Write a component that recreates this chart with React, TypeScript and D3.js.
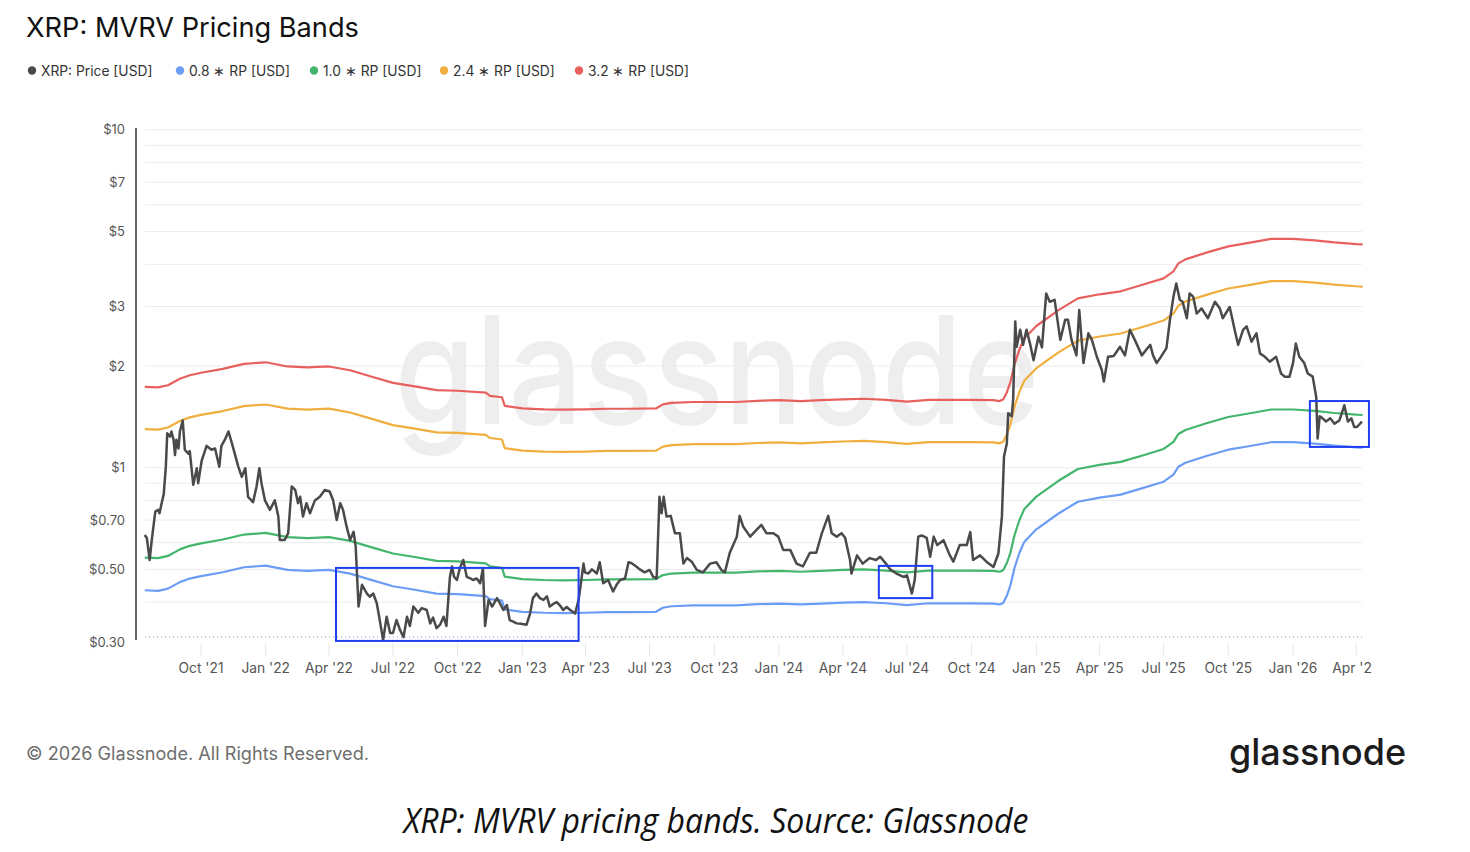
import React from "react";
import * as d3 from "d3";

const W = 1470;
const H = 852;

// XRP price (date, USD)
const priceData: [string, number][] = [
["2021-07-13",0.632],["2021-07-16",0.619],["2021-07-20",0.533],["2021-07-23",0.611],["2021-07-28",0.741],["2021-08-01",0.75],["2021-08-03",0.733],["2021-08-06",0.785],["2021-08-09",0.835],["2021-08-12",1.007],["2021-08-14",1.265],["2021-08-18",1.236],["2021-08-20",1.28],["2021-08-23",1.21],["2021-08-25",1.09],["2021-08-27",1.21],["2021-08-30",1.14],["2021-09-01",1.28],["2021-09-05",1.38],["2021-09-08",1.13],["2021-09-13",1.10],["2021-09-15",1.12],["2021-09-20",0.89],["2021-09-25",0.996],["2021-09-27",0.90],["2021-10-02",1.05],["2021-10-09",1.16],["2021-10-16",1.13],["2021-10-21",1.14],["2021-10-27",1.007],["2021-10-30",1.16],["2021-11-04",1.21],["2021-11-09",1.28],["2021-11-14",1.18],["2021-11-18",1.10],["2021-11-23",1.007],["2021-11-28",0.94],["2021-12-03",0.996],["2021-12-07",0.82],["2021-12-14",0.79],["2021-12-19",0.88],["2021-12-23",0.996],["2021-12-26",0.90],["2021-12-31",0.80],["2022-01-07",0.75],["2022-01-14",0.80],["2022-01-19",0.717],["2022-01-21",0.611],["2022-01-28",0.611],["2022-02-02",0.64],["2022-02-07",0.88],["2022-02-12",0.859],["2022-02-16",0.785],["2022-02-19",0.82],["2022-02-23",0.717],["2022-02-28",0.785],["2022-03-05",0.733],["2022-03-12",0.80],["2022-03-19",0.82],["2022-03-26",0.859],["2022-04-02",0.85],["2022-04-07",0.80],["2022-04-12",0.70],["2022-04-17",0.785],["2022-04-21",0.75],["2022-04-26",0.67],["2022-05-01",0.611],["2022-05-06",0.646],["2022-05-09",0.584],["2022-05-13",0.388],["2022-05-18",0.45],["2022-05-25",0.424],["2022-05-29",0.415],["2022-06-03",0.424],["2022-06-08",0.397],["2022-06-13",0.346],["2022-06-17",0.309],["2022-06-22",0.362],["2022-06-27",0.324],["2022-07-01",0.324],["2022-07-06",0.354],["2022-07-11",0.331],["2022-07-16",0.315],["2022-07-21",0.362],["2022-07-25",0.34],["2022-07-30",0.388],["2022-08-06",0.372],["2022-08-11",0.384],["2022-08-18",0.379],["2022-08-23",0.346],["2022-08-27",0.36],["2022-09-01",0.335],["2022-09-06",0.343],["2022-09-11",0.362],["2022-09-15",0.34],["2022-09-20",0.475],["2022-09-23",0.51],["2022-09-26",0.475],["2022-09-30",0.465],["2022-10-04",0.504],["2022-10-09",0.533],["2022-10-14",0.475],["2022-10-19",0.47],["2022-10-23",0.465],["2022-10-28",0.47],["2022-11-02",0.455],["2022-11-06",0.504],["2022-11-09",0.34],["2022-11-14",0.406],["2022-11-19",0.388],["2022-11-26",0.411],["2022-11-30",0.397],["2022-12-05",0.379],["2022-12-10",0.392],["2022-12-14",0.354],["2022-12-19",0.35],["2022-12-24",0.346],["2022-12-30",0.345],["2023-01-07",0.343],["2023-01-12",0.37],["2023-01-16",0.411],["2023-01-21",0.424],["2023-01-26",0.411],["2023-01-31",0.406],["2023-02-05",0.416],["2023-02-09",0.388],["2023-02-14",0.395],["2023-02-19",0.40],["2023-02-24",0.39],["2023-02-28",0.379],["2023-03-05",0.387],["2023-03-10",0.379],["2023-03-17",0.37],["2023-03-22",0.406],["2023-03-25",0.45],["2023-03-29",0.52],["2023-03-31",0.49],["2023-04-05",0.486],["2023-04-10",0.50],["2023-04-17",0.486],["2023-04-21",0.525],["2023-04-26",0.455],["2023-05-03",0.465],["2023-05-10",0.43],["2023-05-15",0.45],["2023-05-20",0.465],["2023-05-27",0.47],["2023-06-01",0.525],["2023-06-05",0.522],["2023-06-12",0.51],["2023-06-17",0.50],["2023-06-24",0.49],["2023-07-01",0.498],["2023-07-06",0.475],["2023-07-11",0.47],["2023-07-15",0.82],["2023-07-18",0.733],["2023-07-21",0.82],["2023-07-25",0.717],["2023-07-31",0.72],["2023-08-06",0.64],["2023-08-13",0.64],["2023-08-18",0.52],["2023-08-23",0.54],["2023-08-30",0.527],["2023-09-06",0.498],["2023-09-15",0.49],["2023-09-25",0.52],["2023-10-04",0.525],["2023-10-11",0.498],["2023-10-16",0.49],["2023-10-23",0.56],["2023-11-02",0.625],["2023-11-06",0.72],["2023-11-11",0.67],["2023-11-21",0.625],["2023-11-30",0.654],["2023-12-07",0.677],["2023-12-14",0.64],["2023-12-24",0.64],["2023-12-31",0.625],["2024-01-07",0.571],["2024-01-17",0.571],["2024-01-26",0.52],["2024-02-04",0.51],["2024-02-14",0.56],["2024-02-23",0.56],["2024-03-02",0.64],["2024-03-11",0.72],["2024-03-16",0.64],["2024-03-23",0.625],["2024-03-30",0.64],["2024-04-04",0.62],["2024-04-11",0.533],["2024-04-13",0.486],["2024-04-21",0.55],["2024-04-29",0.52],["2024-05-09",0.54],["2024-05-18",0.533],["2024-05-24",0.545],["2024-06-01",0.52],["2024-06-07",0.50],["2024-06-16",0.486],["2024-06-26",0.475],["2024-07-01",0.48],["2024-07-08",0.424],["2024-07-12",0.465],["2024-07-17",0.625],["2024-07-22",0.63],["2024-07-29",0.62],["2024-08-03",0.545],["2024-08-08",0.625],["2024-08-13",0.59],["2024-08-22",0.61],["2024-08-31",0.55],["2024-09-05",0.527],["2024-09-14",0.59],["2024-09-24",0.59],["2024-09-29",0.645],["2024-10-03",0.533],["2024-10-13",0.55],["2024-10-22",0.527],["2024-11-01",0.508],["2024-11-08",0.557],["2024-11-13",0.715],["2024-11-16",1.08],["2024-11-20",1.18],["2024-11-22",1.45],["2024-11-27",1.42],["2024-11-29",1.59],["2024-12-02",2.71],["2024-12-04",2.28],["2024-12-09",2.56],["2024-12-13",2.31],["2024-12-18",2.56],["2024-12-23",2.33],["2024-12-28",2.08],["2025-01-04",2.44],["2025-01-09",2.27],["2025-01-15",3.28],["2025-01-20",3.10],["2025-01-27",3.14],["2025-02-04",2.39],["2025-02-11",2.74],["2025-02-15",2.74],["2025-02-20",2.39],["2025-02-27",2.15],["2025-03-03",2.93],["2025-03-09",2.04],["2025-03-16",2.50],["2025-03-21",2.39],["2025-03-28",2.13],["2025-04-04",1.95],["2025-04-07",1.80],["2025-04-13",2.13],["2025-04-21",2.14],["2025-04-30",2.28],["2025-05-07",2.15],["2025-05-14",2.56],["2025-05-21",2.39],["2025-05-31",2.15],["2025-06-06",2.23],["2025-06-12",2.31],["2025-06-16",2.15],["2025-06-21",2.04],["2025-06-26",2.11],["2025-07-05",2.26],["2025-07-10",2.74],["2025-07-15",3.21],["2025-07-19",3.51],["2025-07-24",3.14],["2025-07-28",3.10],["2025-08-03",2.77],["2025-08-07",3.28],["2025-08-12",3.21],["2025-08-17",2.86],["2025-08-24",2.96],["2025-09-02",2.77],["2025-09-12",3.10],["2025-09-19",2.96],["2025-09-23",2.77],["2025-10-03",2.99],["2025-10-10",2.56],["2025-10-15",2.31],["2025-10-22",2.56],["2025-10-27",2.62],["2025-11-03",2.36],["2025-11-10",2.50],["2025-11-15",2.18],["2025-11-22",2.13],["2025-11-29",2.06],["2025-12-08",2.13],["2025-12-15",1.90],["2025-12-20",1.86],["2025-12-27",1.86],["2026-01-01",2.04],["2026-01-05",2.33],["2026-01-10",2.13],["2026-01-17",2.04],["2026-01-22",1.90],["2026-01-29",1.86],["2026-02-03",1.62],["2026-02-05",1.22],["2026-02-08",1.42],["2026-02-12",1.40],["2026-02-17",1.37],["2026-02-23",1.40],["2026-03-01",1.35],["2026-03-08",1.38],["2026-03-15",1.53],["2026-03-20",1.37],["2026-03-25",1.40],["2026-03-29",1.32],["2026-04-02",1.32],["2026-04-05",1.34],["2026-04-09",1.37]
];

// Realized price (1.0 * RP), USD
const realizedPrice: [string, number][] = [
["2021-07-13",0.542],["2021-08-01",0.540],["2021-08-15",0.548],["2021-09-01",0.573],["2021-09-15",0.587],["2021-10-01",0.597],["2021-11-01",0.613],["2021-12-01",0.634],["2022-01-01",0.641],["2022-02-01",0.623],["2022-03-01",0.619],["2022-04-01",0.623],["2022-05-01",0.607],["2022-06-01",0.581],["2022-07-01",0.557],["2022-08-01",0.544],["2022-09-01",0.530],["2022-10-01",0.528],["2022-11-10",0.521],["2022-11-16",0.510],["2022-12-03",0.505],["2022-12-07",0.476],["2023-01-01",0.468],["2023-02-01",0.465],["2023-03-01",0.464],["2023-04-01",0.465],["2023-05-01",0.467],["2023-06-01",0.467],["2023-07-10",0.468],["2023-07-20",0.481],["2023-08-01",0.486],["2023-09-01",0.489],["2023-10-01",0.489],["2023-11-01",0.489],["2023-12-01",0.493],["2024-01-01",0.495],["2024-02-01",0.492],["2024-03-01",0.495],["2024-04-01",0.498],["2024-05-01",0.500],["2024-06-01",0.496],["2024-07-01",0.490],["2024-08-01",0.496],["2024-09-01",0.496],["2024-10-01",0.496],["2024-11-01",0.495],["2024-11-10",0.492],["2024-11-15",0.498],["2024-11-20",0.522],["2024-11-25",0.559],["2024-12-01",0.632],["2024-12-08",0.700],["2024-12-15",0.755],["2025-01-01",0.821],["2025-02-01",0.913],["2025-03-01",0.991],["2025-04-01",1.019],["2025-05-01",1.040],["2025-06-01",1.087],["2025-07-01",1.136],["2025-07-15",1.192],["2025-07-22",1.258],["2025-08-01",1.293],["2025-09-01",1.356],["2025-10-01",1.413],["2025-11-01",1.449],["2025-12-01",1.487],["2026-01-01",1.487],["2026-02-01",1.472],["2026-03-01",1.452],["2026-04-01",1.435],["2026-04-10",1.432]
];

const bandMultipliers = [0.8, 1.0, 2.4, 3.2];
const legendLabels = ["XRP: Price [USD]", "0.8 \u2217 RP [USD]", "1.0 \u2217 RP [USD]", "2.4 \u2217 RP [USD]", "3.2 \u2217 RP [USD]"];

const yTickValues = [10, 7, 5, 3, 2, 1, 0.7, 0.5, 0.3];
const yTickLabels = ["$10", "$7", "$5", "$3", "$2", "$1", "$0.70", "$0.50", "$0.30"];
const gridValues = [10, 9, 8, 7, 6, 5, 4, 3, 2, 1, 0.9, 0.8, 0.7, 0.6, 0.5, 0.4];

const xTickDates = ["2021-10-01","2022-01-01","2022-04-01","2022-07-01","2022-10-01","2023-01-01","2023-04-01","2023-07-01","2023-10-01","2024-01-01","2024-04-01","2024-07-01","2024-10-01","2025-01-01","2025-04-01","2025-07-01","2025-10-01","2026-01-01","2026-04-01"];
const xTickLabels = ["Oct '21","Jan '22","Apr '22","Jul '22","Oct '22","Jan '23","Apr '23","Jul '23","Oct '23","Jan '24","Apr '24","Jul '24","Oct '24","Jan '25","Apr '25","Jul '25","Oct '25","Jan '26","Apr '26"];

// highlighted regions: [start, end, low, high]
const highlightBoxes: [string, string, number, number][] = [
  ["2022-04-11", "2023-03-22", 0.307, 0.505],
  ["2024-05-22", "2024-08-06", 0.411, 0.512],
  ["2026-01-25", "2026-04-19", 1.152, 1.575],
];

const seriesColors = ["#4a4a4a", "#6b9cf6", "#43b56c", "#f0ae3e", "#e8605e"];
const FONT = "Inter, Roboto, 'Open Sans', sans-serif";

const parse = d3.utcParse("%Y-%m-%d");

export default function App() {
  const x = d3.scaleUtc().domain([parse("2021-10-01")!, parse("2026-01-01")!]).range([201, 1293]);
  const y = d3.scaleLog().domain([0.3, 10]).range([644.3, 129.9]);
  const plotLeft = 145;
  const plotRight = 1362;
  const plotBottom = 637;

  const line = d3.line<[Date, number]>().x((d) => x(d[0])).y((d) => y(d[1])).curve(d3.curveLinear);

  const price: [Date, number][] = priceData.map(([d, v]) => [parse(d)!, v]);
  const bandSeries = bandMultipliers.map((m) => realizedPrice.map(([d, v]) => [parse(d)!, v * m] as [Date, number]));

  const legendX = [32, 180, 314, 444, 579];

  return (
    <svg width={W} height={H} style={{ position: "absolute", left: 0, top: 0, background: "#fff" }} fontFamily={FONT}>
      <rect x={0} y={0} width={W} height={H} fill="#fff" />
      <text x={26} y={37} fontSize={27.2} fill="#111">XRP: MVRV Pricing Bands</text>
      {legendLabels.map((lab, i) => (
        <g key={lab}>
          <circle cx={legendX[i]} cy={70.5} r={4.2} fill={seriesColors[i]} />
          <text x={legendX[i] + 9} y={75.5} fontSize={13.8} fill="#333">{lab}</text>
        </g>
      ))}

      {/* watermark */}
      <text x={717} y={424} fontSize={150} fill="#000" fillOpacity={0.065} textAnchor="middle" textLength={645} lengthAdjust="spacingAndGlyphs" fontWeight={500}>glassnode</text>

      {/* grid */}
      {gridValues.map((v) => (
        <line key={v} x1={plotLeft} x2={plotRight} y1={y(v)} y2={y(v)} stroke="#ececec" strokeWidth={1} />
      ))}
      <line x1={plotLeft} x2={plotRight} y1={plotBottom} y2={plotBottom} stroke="#999" strokeWidth={1} strokeDasharray="1,3" />
      <line x1={136} x2={136} y1={128} y2={640} stroke="#666" strokeWidth={2} />

      {yTickValues.map((v, i) => (
        <text key={v} x={125} y={i === yTickValues.length - 1 ? 642 : y(v)} dy="0.35em" fontSize={13} fill="#555" textAnchor="end">{yTickLabels[i]}</text>
      ))}

      {xTickDates.map((d, i) => {
        const xx = x(parse(d)!);
        return (
          <g key={d}>
            <line x1={xx} x2={xx} y1={643} y2={656} stroke="#e6e6e6" strokeWidth={1} />
            <text x={xx} y={668} dy="0.35em" fontSize={13.8} fill="#555" textAnchor="middle">{xTickLabels[i]}</text>
          </g>
        );
      })}

      {/* bands */}
      {bandSeries.map((s, i) => (
        <path key={i} d={line(s) || ""} fill="none" stroke={seriesColors[i + 1]} strokeWidth={2.2} strokeLinejoin="round" />
      ))}
      <path d={line(price) || ""} fill="none" stroke={seriesColors[0]} strokeWidth={2.5} strokeLinejoin="round" />

      {highlightBoxes.map(([s, e, lo, hi], i) => (
        <rect key={i} x={x(parse(s)!)} y={y(hi)} width={x(parse(e)!) - x(parse(s)!)} height={y(lo) - y(hi)} fill="none" stroke="#1f3ef2" strokeWidth={2} />
      ))}

      <rect x={1372} y={640} width={98} height={50} fill="#fff" />

      <text x={26} y={760} fontSize={18} fill="#6e6e6e" textLength={343} lengthAdjust="spacingAndGlyphs">© 2026 Glassnode. All Rights Reserved.</text>
      <text x={1229} y={765} fontSize={37} fill="#1c1c1c" fontWeight={500} textLength={177} lengthAdjust="spacingAndGlyphs">glassnode</text>
      <text x={716} y={833} fontSize={34} fill="#111" fontStyle="italic" textAnchor="middle" fontFamily="'Open Sans', sans-serif" textLength={625} lengthAdjust="spacingAndGlyphs">XRP: MVRV pricing bands. Source: Glassnode</text>
    </svg>
  );
}
